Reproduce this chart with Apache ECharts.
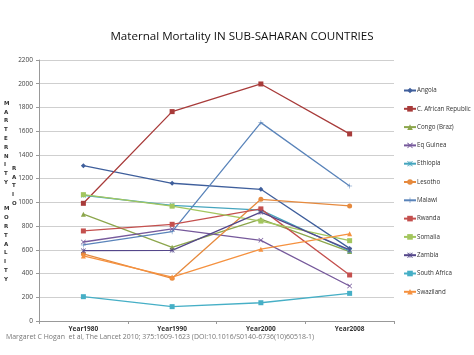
<!DOCTYPE html>
<html><head><meta charset="utf-8">
<script src="https://cdn.jsdelivr.net/npm/echarts@6/dist/echarts.min.js"></script>
<style>html,body{margin:0;padding:0;background:#fff}#c{width:474px;height:355px}</style>
</head><body><div id="c"></div>
<script>
const categories = ['Year1980', 'Year1990', 'Year2000', 'Year2008'];
const yTicks = [0, 200, 400, 600, 800, 1000, 1200, 1400, 1600, 1800, 2000, 2200];
const seriesNames = ['Angola', 'C. African Republic', 'Congo (Braz)', 'Eq Guinea', 'Ethiopia', 'Lesotho', 'Malawi', 'Rwanda', 'Somalia', 'Zambia', 'South Africa', 'Swaziland'];
const angola = [1309, 1161, 1110, 612];
const cAfricanRepublic = [992, 1765, 1998, 1577];
const congoBraz = [900, 621, 858, 585];
const eqGuinea = [666, 776, 680, 295];
const ethiopia = [1060, 975, 935, 590];
const lesotho = [565, 360, 1026, 970];
const malawi = [641, 753, 1672, 1138];
const rwanda = [759, 815, 945, 388];
const somalia = [1065, 968, 842, 677];
const zambia = [593, 596, 917, 599];
const southAfrica = [205, 121, 154, 233];
const swaziland = [548, 370, 605, 735];

const seriesData = [angola, cAfricanRepublic, congoBraz, eqGuinea, ethiopia, lesotho, malawi, rwanda, somalia, zambia, southAfrica, swaziland];
const colors = ['#3F5F9C', '#A83B3A', '#8CA64C', '#76599B', '#45A5BE', '#E68A3E', '#5A84BA', '#C4504E', '#A3C65E', '#54478A', '#46AFC6', '#F5913F'];
const X = 'path://M0,1L1,0L5,4L9,0L10,1L6,5L10,9L9,10L5,6L1,10L0,9L4,5Z';
const STAR = 'path://M0,1L1,0L4.5,3.5L4.5,0L5.5,0L5.5,3.5L9,0L10,1L6,5L10,9L9,10L5.5,6.5L5.5,10L4.5,10L4.5,6.5L1,10L0,9L4,5Z';
const PLUS = 'path://M4.5,0L5.5,0L5.5,4.5L10,4.5L10,5.5L5.5,5.5L5.5,10L4.5,10L4.5,5.5L0,5.5L0,4.5L4.5,4.5Z';
const DASH = 'path://M0,4.5L10,4.5L10,5.5L0,5.5Z';
const symbols = ['diamond', 'rect', 'triangle', X, STAR, 'circle', PLUS, DASH, DASH, STAR, 'rect', 'triangle'];

const chart = echarts.init(document.getElementById('c'), null, {renderer: 'canvas'});

function stack(s) { return s.split('').join('\n'); }

const option = {
  animation: false,
  backgroundColor: '#ffffff',
  color: colors,
  title: {
    text: 'Maternal Mortality IN SUB-SAHARAN COUNTRIES',
    left: 237, top: 26, textAlign: 'center',
    textStyle: {fontFamily: 'Open Sans', fontSize: 11.6, fontWeight: 'normal', color: '#111'}
  },
  grid: {left: 39, right: 80, top: 60, bottom: 34, containLabel: false},
  legend: {
    orient: 'vertical', left: 398, top: 82,
    itemWidth: 12, itemHeight: 7, itemGap: 11.3,
    textStyle: {fontFamily: 'Open Sans', fontSize: 6.2, color: '#333', padding: [0, 0, 0, -4], lineHeight: 7},
    data: seriesNames
  },
  xAxis: {
    type: 'category', data: categories, boundaryGap: true,
    axisLine: {lineStyle: {color: '#999', width: 1}},
    axisTick: {show: true, length: 3, lineStyle: {color: '#999'}},
    axisLabel: {fontFamily: 'Open Sans', fontSize: 6.5, fontWeight: 'bold', color: '#333', margin: 5}
  },
  yAxis: {
    type: 'value', min: yTicks[0], max: yTicks[yTicks.length - 1], interval: 200,
    axisLine: {show: true, lineStyle: {color: '#999'}},
    axisTick: {show: true, length: 3, lineStyle: {color: '#999'}},
    axisLabel: {fontFamily: 'Open Sans', fontSize: 6.5, color: '#444', margin: 6, formatter: v => String(v)},
    splitLine: {lineStyle: {color: '#cfcfcf', width: 1}}
  },
  graphic: [
    {type: 'text', left: 4, top: 99, style: {text: stack('MARTERNITY') + '\n\n\n' + stack('MORTALITY'), fontFamily: 'DejaVu Sans', fontSize: 5.5, fontWeight: 'bold', lineHeight: 8.8, fill: '#333', align: 'center', x: 0}},
    {type: 'text', left: 12, top: 164, style: {text: stack('RATIO'), fontFamily: 'DejaVu Sans', fontSize: 5.5, fontWeight: 'bold', lineHeight: 8.8, fill: '#333'}},
    {type: 'text', left: 6, top: 334, style: {text: 'Margaret C Hogan  et al, The Lancet 2010; 375:1609-1623 (DOI:10.1016/S0140-6736(10)60518-1)', fontFamily: 'Open Sans', fontSize: 6.95, fill: '#777'}}
  ],
  series: seriesNames.map((n, i) => ({
    name: n, type: 'line', data: seriesData[i],
    symbol: symbols[i], symbolSize: 5, showSymbol: true,
    lineStyle: {width: 1.3, color: colors[i]},
    itemStyle: {color: colors[i]}
  }))
};
chart.setOption(option);
</script></body></html>
